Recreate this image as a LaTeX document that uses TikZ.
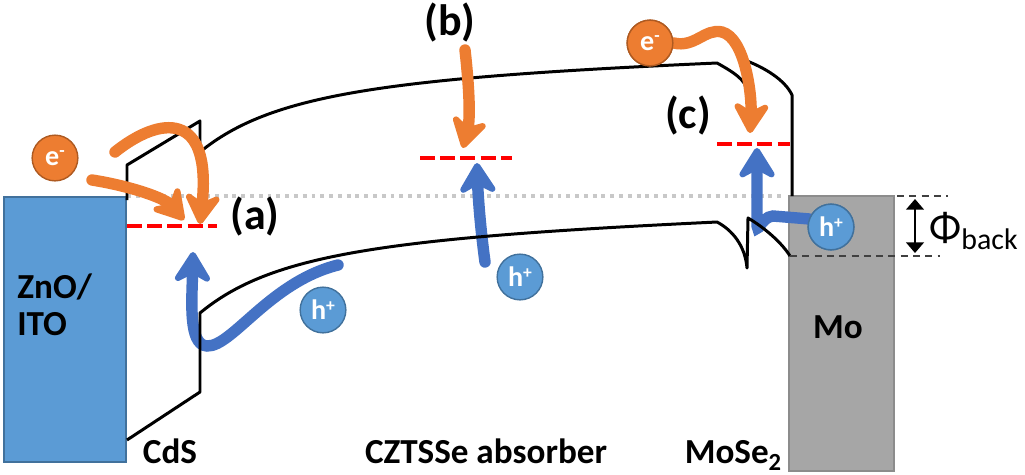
\documentclass[tikz,border=0pt]{standalone}
\usepackage{fontspec}
\setmainfont{Carlito}
\usepackage{xcolor}
\definecolor{eorange}{HTML}{ED7D31}
\definecolor{eorangedark}{HTML}{AE5A21}
\definecolor{hblue}{HTML}{4472C4}
\definecolor{hcircle}{HTML}{5B9BD5}
\definecolor{hcircledark}{HTML}{41719C}
\definecolor{mogray}{HTML}{A6A6A6}
\definecolor{mograydark}{HTML}{8C8C8C}
\definecolor{fermigray}{HTML}{C8C8C8}
\definecolor{traprd}{HTML}{FF0000}
\usepackage{tikz}
\usetikzlibrary{arrows.meta, positioning}

\begin{document}
\begin{tikzpicture}[x=0.2mm, y=-0.2mm,
    band/.style={line width=1.7pt, line join=round},
    trap/.style={traprd, line width=1.8pt, dash pattern=on 8.5pt off 3pt},
    fermi/.style={fermigray, line width=2.2pt, dash pattern=on 2.2pt off 2.8pt},
    guide/.style={black!75, line width=0.7pt, dash pattern=on 4pt off 3pt},
    earr/.style={eorange, line width=6.5pt, line cap=round, -{Stealth[length=21pt, width=25pt, inset=7pt, round, line width=4.5pt]}},
    harr/.style={hblue, line width=6.5pt, line cap=round, -{Stealth[length=21pt, width=26pt, inset=7pt, round, line width=4.5pt]}},
    carrier/.style={circle, draw=#1dark, fill=#1, line width=0.8pt, minimum size=26pt, inner sep=0pt, text=white, font=\bfseries\fontsize{16}{16}\selectfont},
    lbl/.style={font=\bfseries\fontsize{25}{25}\selectfont},
    layer/.style={font=\bfseries\fontsize{20}{20}\selectfont},
]
    \useasboundingbox (0,0) rectangle (1025,474);

    % Contacts
    \draw[hcircledark, fill=hcircle, line width=0.8pt] (4,197) rectangle (126,462);
    \draw[mograydark, fill=mogray, line width=0.8pt] (789,196) rectangle (894,471);

    % Fermi level
    \draw[fermi] (127,196) -- (784,196);

    % Holes
    \draw[harr] (338,265) .. controls (270,282) and (232,347) .. (207,346) .. controls (188,345) and (192,300) .. (193,252);
    \draw[harr] (485,262) .. controls (480,225) and (478,195) .. (477,163);
    \node[carrier=hcircle] (hC) at (831,227) {};
    \draw[harr] (hC.160) -- (773,216) .. controls (760,217) and (757,238) .. (757,222) -- (757,148);

    % Band edges
    \draw[band] (127,200) -- (127,165) -- (200,121) -- (200,152) .. controls (270,95) and (380,78) .. (717,63)
        .. controls (735,73) and (745,80) .. (747,90) -- (747,61) .. controls (765,68) and (785,80) .. (792,95) -- (792,196);
    \draw[band] (127,440) -- (200,392) -- (200,313) .. controls (270,255) and (380,238) .. (717,222)
        .. controls (732,230) and (745,245) .. (747,268) -- (748,218) .. controls (765,228) and (782,243) .. (790,256);

    % Defect levels
    \draw[trap] (127,226) -- (217,226);
    \draw[trap] (420,158) -- (512,158);
    \draw[trap] (717,144) -- (790,144);

    % Electrons
    \node[carrier=eorange] (eA) at (55,158) {e\raisebox{5pt}{\fontsize{10}{10}\selectfont -}};
    \node[carrier=eorange] (eC) at (650,43) {e\raisebox{5pt}{\fontsize{10}{10}\selectfont -}};
    \draw[earr] (92,180) .. controls (130,186) and (165,198) .. (184,220);
    \draw[earr] (115,152) .. controls (160,116) and (212,110) .. (200,224);
    \draw[earr] (465,50) .. controls (470,95) and (470,120) .. (463,148);
    \draw[earr] (eC.east) .. controls (695,48) and (705,28) .. (722,32) .. controls (745,38) and (752,95) .. (750,133);
    \node[carrier=eorange] at (eC) {e\raisebox{5pt}{\fontsize{10}{10}\selectfont -}};

    % Hole circles
    \node[carrier=hcircle] (hA) at (323,310) {h\raisebox{5pt}{\fontsize{10}{10}\selectfont +}};
    \node[carrier=hcircle] (hB) at (520,277) {h\raisebox{5pt}{\fontsize{10}{10}\selectfont +}};
    \node[carrier=hcircle] at (hC) {h\raisebox{5pt}{\fontsize{10}{10}\selectfont +}};

    % Back barrier
    \draw[guide] (897,196) -- (948,196);
    \draw[guide] (790,256) -- (940,256);
    \draw[{Triangle[length=6pt, width=10pt]}-{Triangle[length=6pt, width=10pt]}, line width=1.1pt] (915,199) -- (915,253);
    \node[anchor=base west, inner sep=0pt, font=\fontsize{24}{24}\selectfont] (phib) at (929,241)
        {Φ\raisebox{-5pt}{\fontsize{17}{17}\selectfont back}};

    % Labels
    \node[lbl] (labA) at (255,217) {(a)};
    \node[lbl] (labB) at (450,23) {(b)};
    \node[lbl] (labC) at (688,116) {(c)};
    \node[layer, anchor=base west, inner sep=0pt] (zno) at (17,298) {ZnO/};
    \node[layer, anchor=base west, inner sep=0pt] (ito) at (17,335) {ITO};
    \node[layer, anchor=base, inner sep=0pt] (mo) at (838,338) {Mo};
    \node[layer, anchor=base, inner sep=0pt] (cds) at (170,463) {CdS};
    \node[layer, anchor=base, inner sep=0pt] (czts) at (486,463) {CZTSSe absorber};
    \node[layer, anchor=base, inner sep=0pt] (mose) at (733,463) {MoSe\raisebox{-4pt}{\fontsize{14}{14}\selectfont 2}};
\end{tikzpicture}
\end{document}
